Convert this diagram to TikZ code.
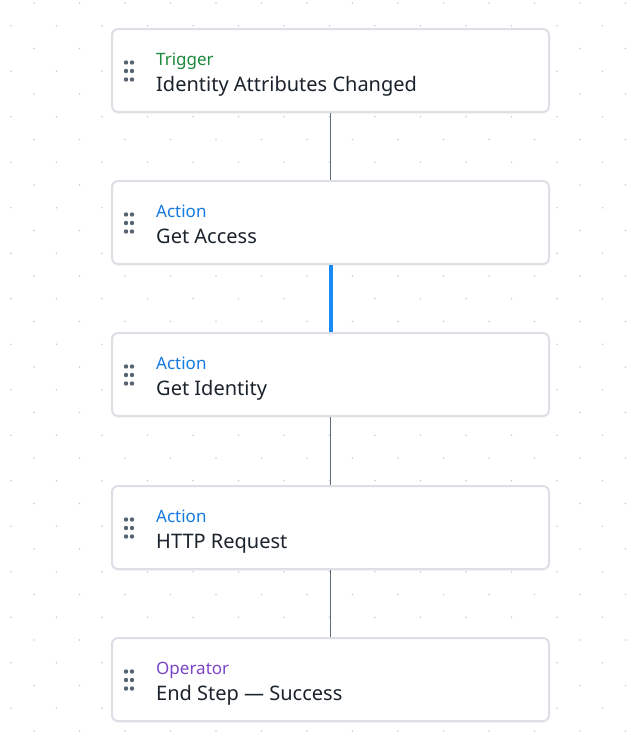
\documentclass[tikz,border=0pt]{standalone}
\usepackage{fontspec}
\setmainfont{Noto Sans}
\usetikzlibrary{shadows}
\definecolor{gridc}{HTML}{C9CDD3}
\definecolor{cardb}{HTML}{DCE0E6}
\definecolor{trigc}{HTML}{1C8A3C}
\definecolor{actc}{HTML}{1479E0}
\definecolor{opc}{HTML}{7B45C8}
\definecolor{maintext}{HTML}{1A222C}
\definecolor{handle}{HTML}{56626F}
\definecolor{linec}{HTML}{5D6C7C}
\definecolor{activec}{HTML}{1A8BF5}
\tikzset{
  card/.style={draw=cardb, line width=2pt, fill=white, rounded corners=6pt,
    minimum width=437pt, minimum height=83pt, inner sep=0pt,
    drop shadow={opacity=0.06, shadow xshift=0pt, shadow yshift=-2pt}},
  lbl/.style={anchor=base west, inner sep=0pt, font=\fontsize{17}{19}\selectfont},
  maintxt/.style={anchor=base west, inner sep=0pt, text=maintext, font=\fontsize{20}{23}\selectfont},
  conn/.style={draw=linec, line width=1.6pt},
  connactive/.style={draw=activec, line width=4pt},
  hdot/.style={fill=handle, draw=none}
}
\newcommand{\handledots}[1]{%
  \foreach \dx in {126,132} {\foreach \dy in {-8,0.5,9} {\fill[hdot] (\dx,#1+\dy) circle (2.2pt);}}}
\begin{document}
\begin{tikzpicture}[x=1pt,y=-1pt]
\useasboundingbox (0,0) rectangle (633,750);
\fill[white] (0,0) rectangle (633,750);
% dot grid
\foreach \k in {0,...,33} {
  \pgfmathsetmacro\yy{3+22.75*\k}
  \pgfmathsetmacro\xo{ifthenelse(mod(\k,2)==0,34,11)}
  \foreach \i in {0,...,13} {
    \fill[gridc] (\xo+45.5*\i,\yy) circle (0.8pt);
  }
}
% cards
\node[card] (c1) at (330.5,70.5) {};
\node[card] (c2) at (330.5,222.5) {};
\node[card] (c3) at (330.5,374.5) {};
\node[card] (c4) at (330.5,527.5) {};
\node[card] (c5) at (330.5,679.5) {};
% connectors
\draw[conn] (c1.south) -- (c2.north);
\draw[connactive] (c2.south) -- (c3.north);
\draw[conn] (c3.south) -- (c4.north);
\draw[conn] (c4.south) -- (c5.north);
% handles
\handledots{70.5}
\handledots{222.5}
\handledots{374.5}
\handledots{527.5}
\handledots{679.5}
% texts
\node[lbl, text=trigc] (l1) at (156,65.5) {Trigger};
\node[maintxt] (t1) at (156,91.5) {Identity Attributes Changed};
\node[lbl, text=actc] (l2) at (156,217.5) {Action};
\node[maintxt] (t2) at (156,243.5) {Get Access};
\node[lbl, text=actc] (l3) at (156,369.5) {Action};
\node[maintxt] (t3) at (156,395.5) {Get Identity};
\node[lbl, text=actc] (l4) at (156,522.5) {Action};
\node[maintxt] (t4) at (156,548.5) {HTTP Request};
\node[lbl, text=opc] (l5) at (156,674.5) {Operator};
\node[maintxt] (t5) at (156,700.5) {End Step — Success};
\end{tikzpicture}
\end{document}
